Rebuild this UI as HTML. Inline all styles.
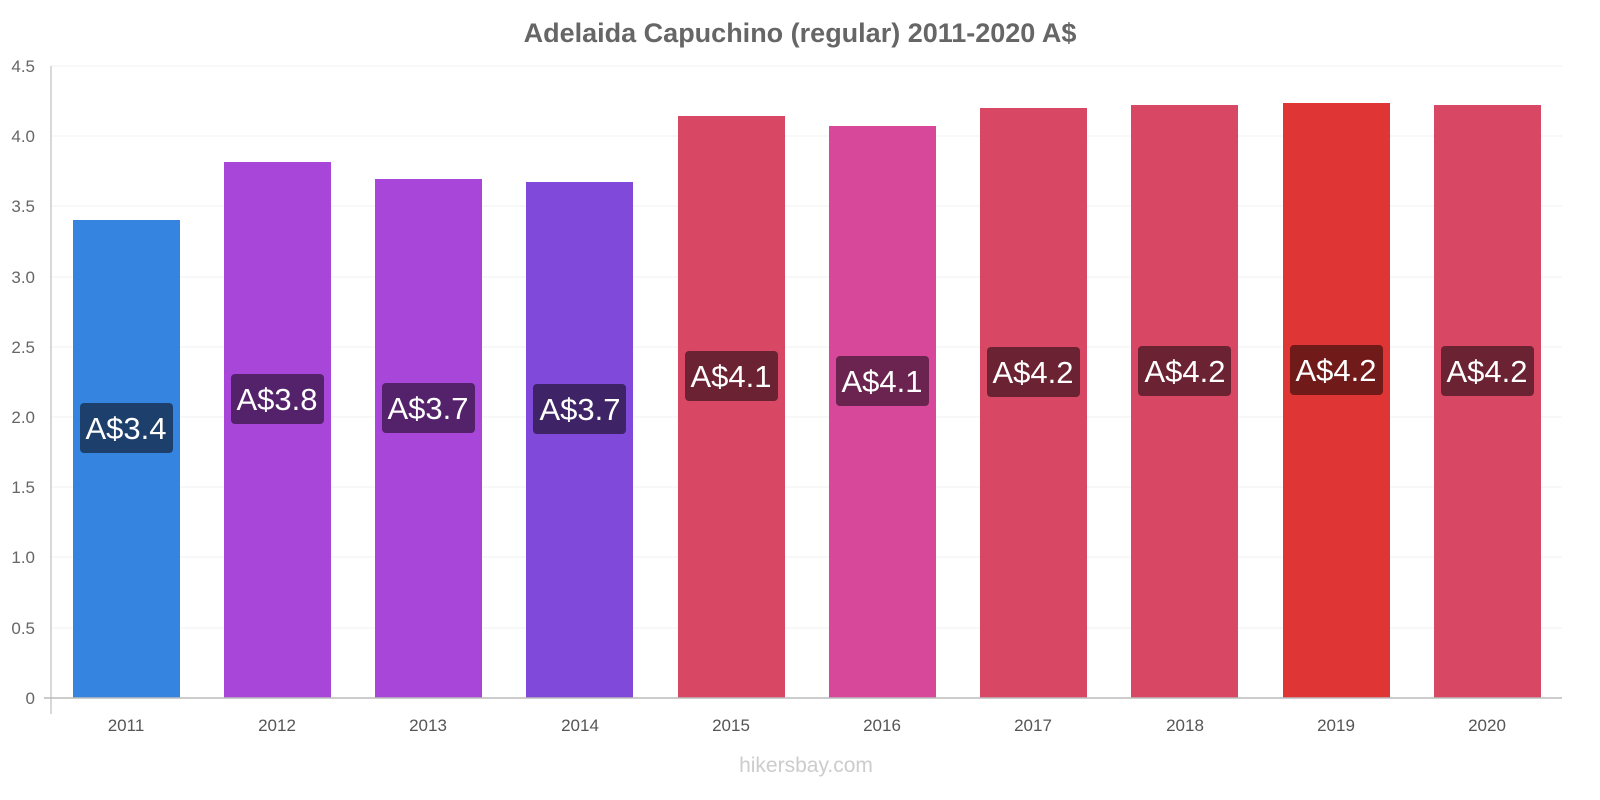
<!DOCTYPE html>
<html><head><meta charset="utf-8"><style>
html,body{margin:0;padding:0;background:#fff;}
svg{display:block;font-family:"Liberation Sans",Arial,sans-serif;}
</style></head><body>
<svg width="1600" height="800" viewBox="0 0 1600 800" xmlns="http://www.w3.org/2000/svg">
<text x="800" y="42" text-anchor="middle" font-size="27" font-weight="bold" fill="#666">Adelaida Capuchino (regular) 2011-2020 A$</text>
<g stroke="#f2f2f2" stroke-width="1">
<line x1="51" x2="1562" y1="66" y2="66"/><line x1="51" x2="1562" y1="136" y2="136"/>
<line x1="51" x2="1562" y1="206" y2="206"/><line x1="51" x2="1562" y1="277" y2="277"/>
<line x1="51" x2="1562" y1="347" y2="347"/><line x1="51" x2="1562" y1="417" y2="417"/>
<line x1="51" x2="1562" y1="487" y2="487"/><line x1="51" x2="1562" y1="557" y2="557"/>
<line x1="51" x2="1562" y1="628" y2="628"/>
</g>
<g font-size="17" fill="#666" text-anchor="end">
<text x="35" y="72">4.5</text><text x="35" y="142">4.0</text><text x="35" y="212">3.5</text>
<text x="35" y="283">3.0</text><text x="35" y="353">2.5</text><text x="35" y="423">2.0</text>
<text x="35" y="493">1.5</text><text x="35" y="563">1.0</text><text x="35" y="634">0.5</text>
<text x="35" y="704">0</text>
</g>
<g>
<rect x="73" y="220" width="107" height="478" fill="#3584e0"/>
<rect x="224" y="162" width="107" height="536" fill="#a846d9"/>
<rect x="375" y="179" width="107" height="519" fill="#a846d9"/>
<rect x="526" y="182" width="107" height="516" fill="#8149d9"/>
<rect x="678" y="116" width="107" height="582" fill="#d84864"/>
<rect x="829" y="126" width="107" height="572" fill="#d8489a"/>
<rect x="980" y="108" width="107" height="590" fill="#d84864"/>
<rect x="1131" y="105" width="107" height="593" fill="#d84864"/>
<rect x="1283" y="103" width="107" height="595" fill="#e03535"/>
<rect x="1434" y="105" width="107" height="593" fill="#d84864"/>
</g>
<g>
<rect x="80" y="403" width="93" height="50" rx="4" fill="#1d3f6b"/>
<rect x="231" y="374" width="93" height="50" rx="4" fill="#54226b"/>
<rect x="382" y="383" width="93" height="50" rx="4" fill="#54226b"/>
<rect x="533" y="384" width="93" height="50" rx="4" fill="#3e2366"/>
<rect x="685" y="351" width="93" height="50" rx="4" fill="#6b2333"/>
<rect x="836" y="356" width="93" height="50" rx="4" fill="#6b2350"/>
<rect x="987" y="347" width="93" height="50" rx="4" fill="#6b2333"/>
<rect x="1138" y="346" width="93" height="50" rx="4" fill="#6b2333"/>
<rect x="1290" y="345" width="93" height="50" rx="4" fill="#701a1a"/>
<rect x="1441" y="346" width="93" height="50" rx="4" fill="#6b2333"/>
</g>
<g font-size="31" fill="#fff" text-anchor="middle">
<text x="126" y="439">A$3.4</text>
<text x="277" y="410">A$3.8</text>
<text x="428" y="419">A$3.7</text>
<text x="580" y="420">A$3.7</text>
<text x="731" y="387">A$4.1</text>
<text x="882" y="392">A$4.1</text>
<text x="1033" y="383">A$4.2</text>
<text x="1185" y="382">A$4.2</text>
<text x="1336" y="381">A$4.2</text>
<text x="1487" y="382">A$4.2</text>
</g>
<line x1="51" x2="51" y1="66" y2="714" stroke="#ccc" stroke-width="1.5"/>
<line x1="44" x2="1562" y1="698" y2="698" stroke="#bbb" stroke-width="1.5"/>
<g font-size="17" fill="#555" text-anchor="middle">
<text x="126" y="731">2011</text><text x="277" y="731">2012</text><text x="428" y="731">2013</text>
<text x="580" y="731">2014</text><text x="731" y="731">2015</text><text x="882" y="731">2016</text>
<text x="1033" y="731">2017</text><text x="1185" y="731">2018</text><text x="1336" y="731">2019</text>
<text x="1487" y="731">2020</text>
</g>
<text x="806" y="772" text-anchor="middle" font-size="21" fill="#ccc">hikersbay.com</text>
</svg>
</body></html>
